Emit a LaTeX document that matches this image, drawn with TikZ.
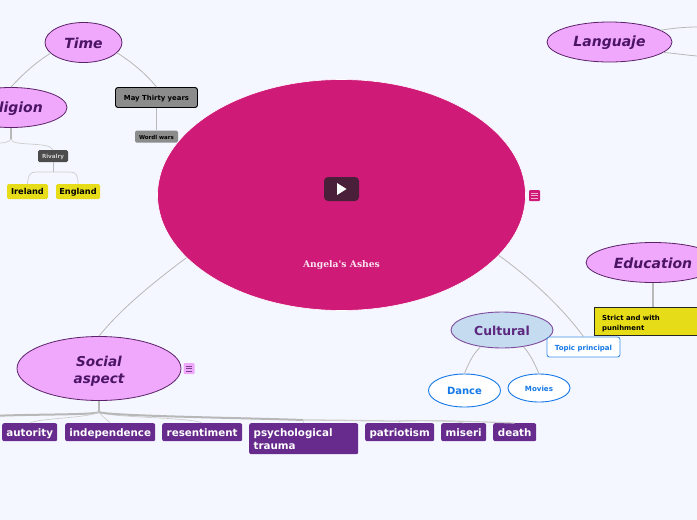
\documentclass[tikz,border=0pt]{standalone}
\usepackage{fontspec}
\setmainfont{DejaVu Sans}
\newfontfamily\titlefont{DejaVu Serif}
\usetikzlibrary{shapes.geometric}
\definecolor{bgc}{HTML}{F4F7FF}
\definecolor{magc}{HTML}{CF1A78}
\definecolor{pinkc}{HTML}{F0A8FC}
\definecolor{pinkb}{HTML}{5A2268}
\definecolor{pinkt}{HTML}{4C1465}
\definecolor{purc}{HTML}{662B8C}
\definecolor{bluec}{HTML}{1478E6}
\definecolor{yelc}{HTML}{E6DC18}
\definecolor{linec}{HTML}{B8B8B8}
\definecolor{cultc}{HTML}{C5DCF0}
\definecolor{playc}{HTML}{4A1F3A}
\newcommand{\lowertext}[2]{\raisebox{-#1}[\height][\depth]{#2}}
\tikzset{
  x=1pt,y=-1pt,
  topicell/.style={ellipse,draw=pinkb,fill=pinkc,line width=0.8pt,inner sep=0pt,text=pinkt,align=center,font=\bfseries\itshape\fontsize{14}{17}\selectfont},
  whiteell/.style={ellipse,draw=bluec,fill=white,line width=0.9pt,inner sep=0pt,text=bluec,font=\bfseries\fontsize{10}{12}\selectfont},
  purplebox/.style={rectangle,rounded corners=2pt,fill=purc,text=white,anchor=north west,inner sep=0pt,minimum height=18pt,text height=10pt,text depth=2.2pt,font=\bfseries\fontsize{10.3}{13}\selectfont},
  yelbox/.style={rectangle,rounded corners=1.5pt,fill=yelc,text=black,inner sep=0pt,minimum height=15pt,text height=6.5pt,text depth=1pt,font=\bfseries\fontsize{8.2}{10}\selectfont},
  conn/.style={draw=linec,line width=0.8pt},
  thickconn/.style={draw=linec,line width=2pt},
  thinconn/.style={draw=linec!70,line width=0.7pt},
  notebox/.style={rectangle,rounded corners=1pt,inner sep=0pt,minimum width=11pt,minimum height=11pt},
}
\begin{document}
\begin{tikzpicture}
\clip (0,0) rectangle (697,520);
\fill[bgc] (0,0) rectangle (697,520);

% central
\node[ellipse,fill=magc,draw=white,line width=0.6pt,minimum width=368pt,minimum height=231pt,inner sep=0pt] (center) at (341.5,195) {};
\node[font=\titlefont\bfseries\fontsize{9.2}{11}\selectfont,text=white!88!magc] (title) at (341.5,265) {Angela's Ashes};
\node[rectangle,rounded corners=4pt,fill=playc,minimum width=35pt,minimum height=24pt,inner sep=0pt] (play) at (341.5,189) {};
\fill[white] ([xshift=-4.5pt,yshift=-6pt]play.center) -- ([xshift=5pt]play.center) -- ([xshift=-4.5pt,yshift=6pt]play.center) -- cycle;
\node[notebox,fill=magc] (note1) at (534.5,195.5) {};
\foreach \d in {-2.5,0,2.5} \draw[white!65!magc,line width=0.8pt] ([xshift=-3.5pt,yshift=\d pt]note1.center) -- ([xshift=3.5pt,yshift=\d pt]note1.center);

% main topics
\node[topicell,minimum width=77pt,minimum height=40pt] (time) at (83.5,42.5) {\lowertext{1pt}{Time}};
\node[topicell,minimum width=112pt,minimum height=40pt] (religion) at (11,107.5) {\lowertext{1.5pt}{Religion}};
\node[topicell,minimum width=125pt,minimum height=40pt] (languaje) at (609.5,42) {\lowertext{1pt}{Languaje}};
\node[topicell,minimum width=134pt,minimum height=40pt] (education) at (653,262.5) {\lowertext{1pt}{Education}};
\node[topicell,minimum width=164pt,minimum height=64pt,font=\bfseries\itshape\fontsize{13.6}{17}\selectfont] (social) at (99,368.5) {\lowertext{2.5pt}{Social}\\\lowertext{2.5pt}{aspect}};
\node[notebox,fill=pinkc] (note2) at (189,368.5) {};
\foreach \d in {-2.5,0,2.5} \draw[pinkt!70!pinkc,line width=0.7pt] ([xshift=-3pt,yshift=\d pt]note2.center) -- ([xshift=3pt,yshift=\d pt]note2.center);
\node[ellipse,draw=purc!85!white,fill=cultc,line width=0.9pt,inner sep=0pt,minimum width=102pt,minimum height=36pt,text=purc!90!black,font=\bfseries\fontsize{12.4}{15}\selectfont] (cultural) at (502,330) {\lowertext{1pt}{Cultural}};

% sub topics
\node[whiteell,minimum width=72pt,minimum height=33pt] (dance) at (464.5,390.5) {Dance};
\node[whiteell,minimum width=62pt,minimum height=28pt,font=\bfseries\fontsize{7.1}{9}\selectfont] (movies) at (539,388) {\lowertext{0.8pt}{Movies}};
\node[rectangle,rounded corners=2.5pt,draw=bluec!80!white,fill=white,line width=0.9pt,text=bluec,inner sep=0pt,minimum width=73pt,minimum height=20pt,font=\bfseries\fontsize{7}{9}\selectfont] (topicp) at (583.5,347) {\lowertext{1.2pt}{Topic principal}};
\node[rectangle,draw=black!85,fill=yelc,line width=0.9pt,inner sep=0pt,minimum width=118pt,minimum height=28pt] (strict) at (653,321.5) {};
\node[anchor=west,align=left,inner sep=0pt,text=black,font=\bfseries\fontsize{6.9}{10}\selectfont] (stricttext) at (602,323.5) {Strict and with\\punihment};

\node[rectangle,rounded corners=2.5pt,draw=black,fill=black!45,line width=0.9pt,inner sep=0pt,minimum width=82pt,minimum height=20pt,text=black,font=\bfseries\fontsize{6.9}{9}\selectfont] (may) at (156.5,97.5) {\lowertext{1pt}{May Thirty years}};
\node[rectangle,rounded corners=1.5pt,fill=black!45,inner sep=0pt,minimum width=43pt,minimum height=12pt,text=black,font=\bfseries\fontsize{5.5}{7}\selectfont] (wars) at (156.5,136.5) {\lowertext{0.5pt}{Wordl wars}};
\node[rectangle,rounded corners=1.5pt,fill=black!70,inner sep=0pt,minimum width=30pt,minimum height=12pt,text=white!80!black,font=\bfseries\fontsize{5.6}{7}\selectfont] (rivalry) at (53,156) {\lowertext{0.6pt}{Rivalry}};
\node[yelbox,minimum width=41pt] (ireland) at (27.5,191.5) {Ireland};
\node[yelbox,minimum width=44pt] (england) at (78,191.5) {England};

% purple leaves
\node[purplebox,minimum width=55pt] (autority) at (2,423) {autority};
\node[purplebox,minimum width=90pt] (independence) at (65,423) {independence};
\node[purplebox,minimum width=80pt] (resentiment) at (162,423) {resentiment};
\node[rectangle,rounded corners=2pt,fill=purc,text=white,anchor=north west,inner sep=0pt,minimum width=109pt,minimum height=31pt] (trauma) at (249,423) {};
\node[anchor=west,align=left,inner sep=0pt,text=white,font=\bfseries\fontsize{10.3}{13}\selectfont] (traumatext) at (253.5,439.5) {psychological\\trauma};
\node[purplebox,minimum width=69pt] (patriotism) at (365,423) {patriotism};
\node[purplebox,minimum width=45pt] (miseri) at (441,423) {miseri};
\node[purplebox,minimum width=43pt] (death) at (493,423) {death};

% free ends
\coordinate (langA) at (697,27);
\coordinate (langB) at (697,56);
\coordinate (relL) at (0,143);
\coordinate (socL) at (-10,416);
\coordinate (socFork) at (99,412);
\coordinate (relFork) at (11,139);
\coordinate (rivFork) at (53,172);
\coordinate (socM) at (303,420);
\coordinate (socN) at (399.5,421);

% connectors
\draw[conn] (center.202) .. controls (150,285) and (120,310) .. (social.north);
\draw[conn] (center.-21.6) .. controls (530,278) and (560,305) .. (topicp.north);
\draw[conn] (time.198) .. controls (35,63) and (22,75) .. (religion.north);
\draw[conn] (time.-17) .. controls (133,63) and (147,75) .. (may.north);
\draw[conn] (may.south) -- (wars.north);
\draw[conn,line width=1.2pt] (education.south) -- (strict.north);
\draw[conn] (languaje.13.6) .. controls (675,28) and (685,27) .. (langA);
\draw[conn] (languaje.-11) .. controls (672,53) and (685,55) .. (langB);
\draw[conn] (cultural.218) .. controls (472,355) and (468,365) .. (dance.north);
\draw[conn] (cultural.-38) .. controls (531,355) and (535,365) .. (movies.north);
\draw[conn,line width=1.4pt] (religion.south) -- (relFork);
\draw[thinconn] (relFork) .. controls (11,147) and (50,141) .. (rivalry.north);
\draw[thinconn] (relFork) .. controls (9,142) and (5,143) .. (relL);
\draw[conn] (rivalry.south) -- (rivFork);
\draw[thinconn] (rivFork) -- (36,172) .. controls (30,172) and (28,175) .. (ireland.north);
\draw[thinconn] (rivFork) -- (70,172) .. controls (76,172) and (78,175) .. (england.north);
\draw[conn,line width=1.4pt] (social.south) -- (socFork);
\draw[thickconn] (socFork) .. controls (95,415) and (40,414) .. (socL);
\draw[thinconn] (socFork) .. controls (90,418) and (40,418) .. (autority.north);
\draw[thinconn] (socFork) .. controls (102,417) and (108,420) .. (independence.north);
\draw[thinconn] (socFork) .. controls (110,418) and (190,417) .. (resentiment.north);
\draw[thickconn] (socFork) .. controls (106,416) and (250,418) .. (socM);
\draw[conn,line width=1.3pt,draw=linec!70] (socM) .. controls (330,420) and (380,421) .. (socN);
\draw[thinconn] (socM) -- (trauma.north);
\draw[thinconn,line width=1.2pt] (socN) .. controls (430,420) and (455,421) .. (death.north);
\draw[thinconn] (socN) -- (patriotism.north);
\draw[thinconn] (socN) .. controls (420,420) and (455,421) .. (miseri.north);
\end{tikzpicture}
\end{document}
